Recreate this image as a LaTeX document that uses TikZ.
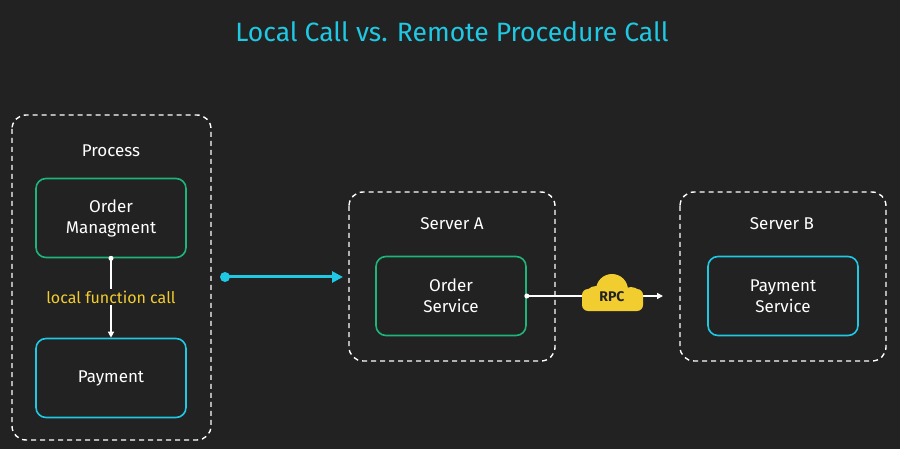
\documentclass[tikz,border=0pt]{standalone}
\usepackage{fontspec}
\setmainfont{Fira Sans}
\usetikzlibrary{arrows.meta}
\definecolor{bg}{HTML}{222222}
\definecolor{cy}{HTML}{1FC8E3}
\definecolor{gr}{HTML}{1DB57A}
\definecolor{yl}{HTML}{F2CD2F}
\begin{document}
\begin{tikzpicture}[x=1pt,y=-1pt,
 dbox/.style={draw=white,dashed,dash pattern=on 5pt off 4pt,line width=1.4pt,rounded corners=14pt},
 gbox/.style={draw=gr,line width=1.6pt,rounded corners=10pt,minimum width=150pt,minimum height=79pt,text=white,align=center,font=\fontsize{17}{21}\selectfont},
 cbox/.style={gbox,draw=cy},
 lbl/.style={text=white,font=\fontsize{17}{21}\selectfont},
 arr/.style={white,line width=1.3pt,-{Triangle[length=6pt,width=6pt]}}]
\fill[bg] (0,0) rectangle (900,449);
\useasboundingbox (0,0) rectangle (900,449);
\node[text=cy,font=\fontsize{26.5}{31}\selectfont] (title) at (452,32) {Local Call vs. Remote Procedure Call};
\draw[dbox] (12,115) rectangle (211,440);
\node[lbl] (proc) at (111,151) {Process};
\node[gbox] (om) at (111,218) {Order\\Managment};
\node[cbox] (pay) at (111,378) {Payment};
\draw[arr] (om.south) -- (pay.north);
\fill[white] (om.south) circle (2.5);
\node[fill=bg,text=yl,font=\fontsize{16}{19}\selectfont,inner sep=2pt] (lfc) at (111,297) {local function call};
\coordinate (a1) at (225,277); \coordinate (a2) at (343,277);
\draw[cy,line width=3pt,-{Triangle[length=11pt,width=11pt]}] (a1) -- (a2);
\fill[cy] (a1) circle (5);
\draw[dbox] (349,192) rectangle (555,361);
\node[lbl] (sa) at (452,224) {Server A};
\node[gbox] (os) at (451,296) {Order\\Service};
\draw[dbox] (680,192) rectangle (886,361);
\node[lbl] (sb) at (782,224) {Server B};
\node[cbox] (ps) at (783,296) {Payment\\Service};
\coordinate (rend) at (663,296);
\draw[arr] (os.east) -- (rend);
\fill[white] (os.east) circle (2.5);
\fill[yl,rounded corners=6pt] (582,289) rectangle (643,311);
\fill[yl] (612,290) circle (16) (596,297) circle (11) (631,298) circle (11);
\node[text=bg,font=\bfseries\fontsize{14}{16}\selectfont] (rpc) at (612,297) {RPC};
\end{tikzpicture}
\end{document}
